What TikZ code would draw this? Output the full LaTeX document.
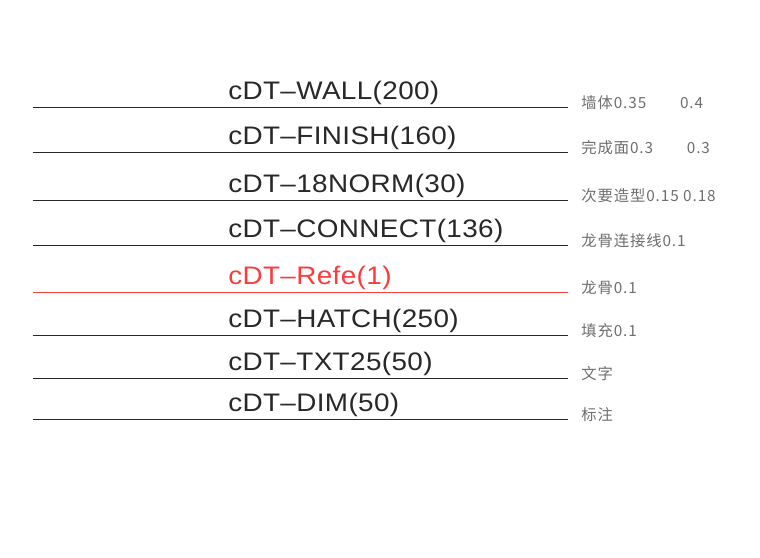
\documentclass[tikz,border=0pt]{standalone}
\usepackage{fontspec}
\setmainfont{Liberation Sans}
\newfontfamily\cadfont[FakeStretch=1.1,LetterSpace=1.5]{Liberation Sans}
\newfontfamily\cjk[LetterSpace=6]{Noto Sans CJK SC}
\definecolor{layerred}{RGB}{250,60,60}
\definecolor{notegray}{RGB}{110,110,110}
\definecolor{layerblack}{RGB}{40,40,40}
\tikzset{
  layerline/.style={line width=0.6pt},
  layername/.style={anchor=base west, inner sep=0pt, font=\cadfont\fontsize{19}{20}\selectfont},
  layernote/.style={anchor=west, inner sep=0pt, text=notegray, font=\cjk\fontsize{11.5}{12}\selectfont}
}
\begin{document}
\begin{tikzpicture}[x=0.75pt,y=-0.75pt]
\useasboundingbox (0,0) rectangle (760,557);
\foreach \yy/\txt/\note/\col [count=\i] in {
    107/{cDT–WALL(200)}/{墙体0.35\hspace{2.2em}0.4}/layerblack,
    152/{cDT–FINISH(160)}/{完成面0.3\hspace{2.2em}0.3}/layerblack,
    200/{cDT–18NORM(30)}/{次要造型0.15 0.18}/layerblack,
    245/{cDT–CONNECT(136)}/{龙骨连接线0.1}/layerblack,
    292/{cDT–Refe(1)}/{龙骨0.1}/layerred,
    335/{cDT–HATCH(250)}/{填充0.1}/layerblack,
    378/{cDT–TXT25(50)}/{文字}/layerblack,
    419/{cDT–DIM(50)}/{标注}/layerblack} {
  \coordinate (l\i) at (33,\yy);
  \coordinate (r\i) at (568,\yy);
  \draw[layerline, draw=\col] (l\i) -- (r\i);
  \node[layername, text=\col] (n\i) at (228,\yy-8) {\txt};
  \node[layernote] (m\i) at (581,\yy-4) {\note};
}
\end{tikzpicture}
\end{document}
